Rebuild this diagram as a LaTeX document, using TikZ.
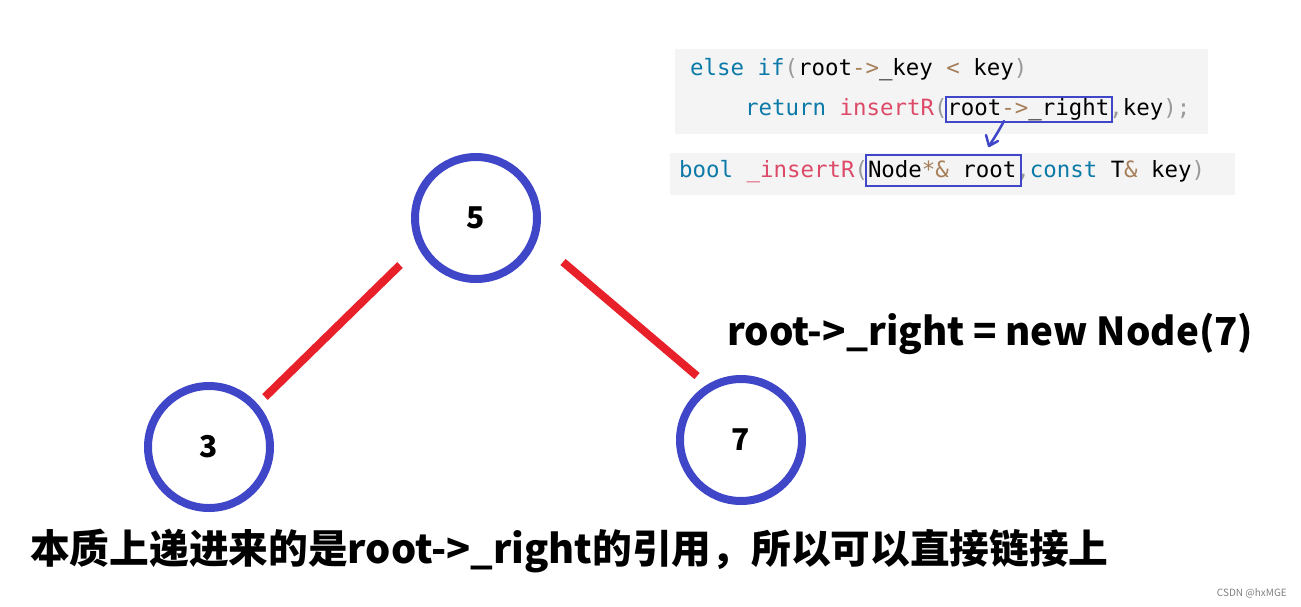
\documentclass[tikz,border=0pt]{standalone}
\usepackage{fontspec}
\newfontfamily\cjk{Noto Sans CJK SC}
\newfontfamily\mono{DejaVu Sans Mono}
\definecolor{cblue}{HTML}{4046C8}
\definecolor{cred}{HTML}{E8202A}
\definecolor{kw}{HTML}{0B7AA8}
\definecolor{fn}{HTML}{DD4A68}
\definecolor{op}{HTML}{A67F59}
\definecolor{pn}{HTML}{999999}
\definecolor{bg}{HTML}{F4F4F4}
\newcommand{\K}[1]{\textcolor{kw}{#1}}
\newcommand{\F}[1]{\textcolor{fn}{#1}}
\newcommand{\Op}[1]{\textcolor{op}{#1}}
\newcommand{\Pn}[1]{\textcolor{pn}{#1}}
\begin{document}
\begin{tikzpicture}[x=1pt,y=-1pt,
  tnode/.style={circle,draw=cblue,line width=8pt,minimum size=122pt,inner sep=0pt,font=\cjk\bfseries\fontsize{30}{32}\selectfont},
  edge/.style={cred,line width=8pt},
  code/.style={anchor=base west,inner sep=0pt,font=\mono\fontsize{22.4}{24}\selectfont},
  hl/.style={draw=cblue,line width=2pt}]
\useasboundingbox (0,0) rectangle (1301,606);
\fill[bg] (675,49) rectangle (1208,134);
\fill[bg] (670,153) rectangle (1235,195);
\node[code] (l1) at (690,75) {\K{else if}\Pn{(}root\Op{->}\_key \Op{<} key\Pn{)}};
\node[code] (l2) at (745,115) {\K{return} \F{insertR}\Pn{(}root\Op{->}\_right\Pn{,}key\Pn{);}};
\node[code] (l3) at (679,177) {\K{bool} \F{\_insertR}\Pn{(}Node\Op{*\&} root\Pn{,}\K{const} T\Op{\&} key\Pn{)}};
\draw[hl] (946,97) rectangle (1112,122);
\draw[hl] (866,155) rectangle (1021,186);
\coordinate (a1) at (1004,121);
\coordinate (a2) at (989,146);
\draw[cblue,line width=2.5pt,line cap=round] (a1) .. controls (998,132) .. (a2);
\draw[cblue,line width=2.5pt,line cap=round] (a2) -- (986,135) (a2) -- (998,141);
\node[tnode] (n5) at (476,218) {5};
\node[tnode] (n3) at (209,447) {3};
\node[tnode] (n7) at (741,440) {7};
\coordinate (e1a) at (400,265); \coordinate (e1b) at (265,397);
\coordinate (e2a) at (563,262); \coordinate (e2b) at (697,376);
\draw[edge] (e1a) -- (e1b);
\draw[edge] (e2a) -- (e2b);
\node[anchor=base west,inner sep=0pt,font=\cjk\bfseries\fontsize{38.5}{42}\selectfont] (t1) at (727,345) {root->\_right = new Node(7)};
\node[anchor=base west,inner sep=0pt,font=\cjk\bfseries\fontsize{39.7}{44}\selectfont] (t2) at (30,563) {本质上递进来的是root->\_right的引用，所以可以直接链接上};
\node[anchor=base east,inner sep=0pt,text=gray,font=\cjk\fontsize{10}{12}\selectfont] (wm) at (1287,596) {CSDN @hxMGE};
\end{tikzpicture}
\end{document}
